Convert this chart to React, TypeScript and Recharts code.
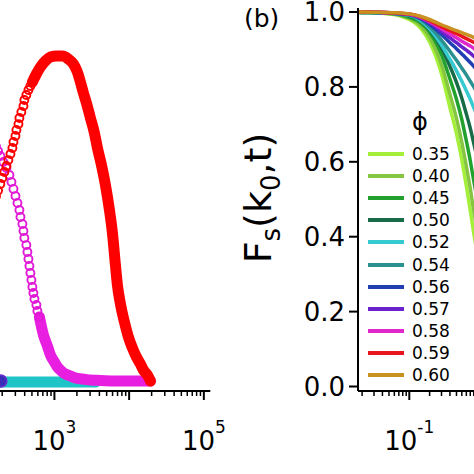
import React from "react";
import { ComposedChart, Line, XAxis, YAxis, Legend } from "recharts";

const FONT = "'DejaVu Sans', sans-serif";

// ---------- left panel (only its right part is in view) ----------
// [t, value] pairs
const redOpen: [number, number][] = [
  [165, 9.8], [176, 10.1], [189, 10.45], [201, 10.77], [214, 11.09], [228, 11.41],
  [242, 11.72], [258, 12.04], [274, 12.36], [283, 12.68], [301, 13.0], [310, 13.32],
  [330, 13.63], [340, 13.95], [361, 14.27], [385, 14.59], [396, 14.91], [421, 15.17],
  [449, 15.44], [477, 15.65], [507, 15.86],
];
const redBand: [number, number][] = [
  [507, 15.86], [574, 16.29], [650, 16.66], [759, 16.98], [884, 17.19], [1064, 17.24],
  [1280, 17.24], [1539, 17.08], [1796, 16.82], [2031, 16.39], [2228, 15.86], [2443, 15.28],
  [2681, 14.75], [3034, 13.95], [3428, 13.16], [3765, 12.36], [4259, 11.46], [4816, 10.4],
  [5449, 9.07], [5976, 7.85], [6555, 6.15], [6970, 5.09], [7648, 4.08], [8650, 3.13],
  [9790, 2.33], [11070, 1.75], [12530, 1.27], [14170, 0.9], [15530, 0.58], [17570, 0.32],
  [19280, 0],
];
const magentaOpen: [number, number][] = [
  [165, 12.45], [176, 12.2], [189, 11.94], [207, 11.62], [228, 11.3], [250, 10.93],
  [266, 10.56], [283, 10.19], [301, 9.81], [320, 9.44], [340, 9.07], [351, 8.7],
  [373, 8.33], [385, 7.96], [396, 7.59], [421, 7.21], [435, 6.84], [449, 6.47],
  [463, 6.1], [477, 5.73], [492, 5.36], [507, 4.99], [523, 4.67], [540, 4.35],
  [574, 4.03], [592, 3.71], [629, 3.4],
];
const magentaBand: [number, number][] = [
  [629, 3.4], [713, 2.44], [806, 1.86], [884, 1.38], [1000, 1.01], [1097, 0.74],
  [1240, 0.53], [1403, 0.37], [1637, 0.27], [1910, 0.16], [2370, 0.11], [3034, 0.05],
  [4130, 0.03], [6555, 0], [10400, 0], [19280, 0],
];
const cyanBand: [number, number][] = [
  [10, -0.05], [30, -0.05], [80, -0.05], [190, -0.05], [500, -0.05], [1200, -0.05],
  [2500, -0.05], [3600, -0.05],
];
const blueEnd: [number, number][] = [[20, 0], [60, 0], [120, 0], [192, 0]];

// ---------- right panel: Fs(k0,t) ----------
const fsTimes = [0.01, 0.02, 0.04, 0.06, 0.08, 0.1, 0.15, 0.2, 0.3, 0.4, 0.5, 0.6, 0.7, 0.8, 0.9, 1.0];
const phiLabels = ["0.35", "0.40", "0.45", "0.50", "0.52", "0.54", "0.56", "0.57", "0.58", "0.59", "0.60"];
const phiColors = [
  "#a4ef3a", "#86c540", "#22a12e", "#176b47", "#35c9d0", "#2a9190",
  "#1f3fb3", "#6a22cc", "#df27cc", "#e8141e", "#c9911f",
];
const fs35 = [1, 0.999, 0.997, 0.993, 0.987, 0.98, 0.955, 0.92, 0.835, 0.745, 0.675, 0.605, 0.535, 0.47, 0.41, 0.36];
const fs40 = [1, 0.999, 0.997, 0.994, 0.989, 0.983, 0.962, 0.932, 0.859, 0.78, 0.716, 0.652, 0.588, 0.529, 0.47, 0.422];
const fs45 = [1, 0.999, 0.998, 0.995, 0.991, 0.986, 0.97, 0.946, 0.886, 0.821, 0.767, 0.713, 0.656, 0.603, 0.55, 0.505];
const fs50 = [1, 0.999, 0.998, 0.996, 0.993, 0.99, 0.975, 0.953, 0.905, 0.855, 0.812, 0.77, 0.728, 0.69, 0.65, 0.615];
const fs52 = [1, 0.999, 0.998, 0.996, 0.993, 0.991, 0.976, 0.955, 0.912, 0.874, 0.843, 0.815, 0.79, 0.767, 0.745, 0.726];
const fs54 = [1, 0.999, 0.998, 0.997, 0.994, 0.992, 0.979, 0.961, 0.925, 0.895, 0.871, 0.85, 0.832, 0.815, 0.8, 0.786];
const fs56 = [1, 1, 0.999, 0.997, 0.995, 0.993, 0.982, 0.967, 0.94, 0.918, 0.902, 0.888, 0.876, 0.865, 0.855, 0.846];
const fs57 = [1, 1, 0.999, 0.997, 0.995, 0.994, 0.984, 0.971, 0.948, 0.931, 0.918, 0.907, 0.898, 0.89, 0.882, 0.875];
const fs58 = [1, 1, 0.999, 0.998, 0.996, 0.994, 0.985, 0.974, 0.955, 0.941, 0.931, 0.922, 0.915, 0.909, 0.903, 0.897];
const fs59 = [1, 1, 0.999, 0.998, 0.996, 0.995, 0.987, 0.977, 0.961, 0.95, 0.942, 0.935, 0.929, 0.924, 0.919, 0.914];
const fs60 = [1, 1, 0.999, 0.998, 0.997, 0.995, 0.988, 0.98, 0.966, 0.957, 0.95, 0.945, 0.94, 0.936, 0.932, 0.929];
const fsSeries = [fs35, fs40, fs45, fs50, fs52, fs54, fs56, fs57, fs58, fs59, fs60];

const fsRows = fsTimes.map((t, i) => {
  const row: Record<string, number> = { t };
  fsSeries.forEach((s, k) => (row["p" + k] = s[i]));
  return row;
});

const toPts = (a: [number, number][]) => a.map(([t, v]) => ({ t, v }));

// log ticks 2..9 x 10^k plus the decades
const logTicks = (from: number, to: number) => {
  const out: number[] = [];
  for (let e = from; e <= to; e++) {
    for (let m = 1; m <= 9; m++) out.push(+(m * Math.pow(10, e)).toPrecision(3));
  }
  return out;
};
const leftTicks = logTicks(1, 4).concat([100000]).filter((v) => v >= 20);
const rightTicks = logTicks(-2, 0).filter((v) => v >= 0.02 && v <= 1);
const fsYTicks = [0, 0.2, 0.4, 0.6, 0.8, 1.0];

const LogTick = (props: any) => {
  const { x, y, payload } = props;
  const v = payload.value;
  const e = Math.round(Math.log10(v));
  const major = Math.abs(v / Math.pow(10, e) - 1) < 1e-6;
  return (
    <g>
      <line x1={x} x2={x} y1={y} y2={y + (major ? 9 : 5)} stroke="#000" strokeWidth={major ? 2 : 1.5} />
      {major && e % 2 !== 0 && (
        <text x={x} y={y + 59} textAnchor="middle" fontSize={26} fill="#000">
          10
          <tspan dy={-17} fontSize={17}>
            {e}
          </tspan>
        </text>
      )}
    </g>
  );
};

const FsYTick = (props: any) => {
  const { x, y, payload } = props;
  return (
    <g>
      <line x1={x - 9} x2={x} y1={y} y2={y} stroke="#000" strokeWidth={2} />
      <text x={x - 13} y={y} dy="0.36em" textAnchor="end" fontSize={26} fill="#000">
        {payload.value.toFixed(1)}
      </text>
    </g>
  );
};

const FsLegend = (props: any) => {
  const payload = props.payload || [];
  return (
    <div style={{ fontFamily: FONT, color: "#000" }}>
      <div style={{ height: 35, lineHeight: "28px", fontSize: 24, paddingLeft: 44 }}>ϕ</div>
      {payload.map((e: any) => (
        <div key={e.value} style={{ height: 22.1, display: "flex", alignItems: "center" }}>
          <svg width={44} height={8} style={{ display: "block" }}>
            <line x1={0} x2={36} y1={4} y2={4} stroke={e.color} strokeWidth={4} />
          </svg>
          <span style={{ fontSize: 17, lineHeight: "22px" }}>{e.value}</span>
        </div>
      ))}
    </div>
  );
};

const frame = { stroke: "#000", strokeWidth: 2 };

const LeftPanel = () => (
  <ComposedChart width={335.3} height={474} margin={{ top: 4, right: 30, bottom: 0, left: 0 }}>
    <XAxis
      dataKey="t"
      type="number"
      scale="log"
      domain={[10, 122000]}
      allowDataOverflow
      ticks={leftTicks}
      interval={0}
      tick={<LogTick />}
      tickLine={false}
      tickSize={0}
      tickMargin={0}
      height={83}
      axisLine={frame}
    />
    <XAxis
      xAxisId="top"
      orientation="top"
      type="number"
      scale="log"
      domain={[10, 122000]}
      allowDataOverflow
      height={0}
      tick={false}
      tickLine={false}
      axisLine={frame}
    />
    <YAxis
      orientation="right"
      type="number"
      domain={[-0.53, 20]}
      allowDataOverflow
      width={0}
      tick={false}
      tickLine={false}
      axisLine={frame}
    />
    <Line data={toPts(cyanBand)} dataKey="v" type="linear" stroke="#1fc4c6" strokeWidth={11}
      strokeLinecap="round" dot={false} activeDot={false} isAnimationActive={false} />
    <Line data={toPts(blueEnd)} dataKey="v" type="linear" stroke="#3b2db8" strokeWidth={10}
      dot={{ r: 6, fill: "#3b2db8", stroke: "#6a2fd0", strokeWidth: 1.5 }} activeDot={false} isAnimationActive={false} />
    <Line data={toPts(magentaOpen)} dataKey="v" type="linear" stroke="none"
      dot={{ r: 4, fill: "none", stroke: "#e01ad6", strokeWidth: 1.9 }} activeDot={false} isAnimationActive={false} />
    <Line data={toPts(magentaBand)} dataKey="v" type="monotone" stroke="#e81ee0" strokeWidth={11}
      strokeLinecap="round" strokeLinejoin="round" dot={false} activeDot={false} isAnimationActive={false} />
    <Line data={toPts(redOpen)} dataKey="v" type="linear" stroke="none"
      dot={{ r: 4, fill: "none", stroke: "#ff0000", strokeWidth: 1.9 }} activeDot={false} isAnimationActive={false} />
    <Line data={toPts(redBand)} dataKey="v" type="monotone" stroke="#ff0000" strokeWidth={11}
      strokeLinecap="round" strokeLinejoin="round" dot={false} activeDot={false} isAnimationActive={false} />
  </ComposedChart>
);

const RightPanel = () => (
  <ComposedChart width={307.3} height={474} data={fsRows} margin={{ top: 8, right: 0, bottom: 0, left: 0 }}>
    <XAxis
      dataKey="t"
      type="number"
      scale="log"
      domain={[0.01738, 10]}
      allowDataOverflow
      ticks={rightTicks}
      interval={0}
      tick={<LogTick />}
      tickLine={false}
      tickSize={0}
      tickMargin={0}
      height={83}
      axisLine={frame}
    />
    <XAxis
      xAxisId="top"
      orientation="top"
      type="number"
      scale="log"
      domain={[0.01738, 10]}
      allowDataOverflow
      height={0}
      tick={false}
      tickLine={false}
      axisLine={frame}
    />
    <YAxis
      type="number"
      domain={[-0.012, 1.0107]}
      allowDataOverflow
      ticks={fsYTicks}
      interval={0}
      width={121}
      tick={<FsYTick />}
      tickLine={false}
      tickSize={0}
      tickMargin={0}
      axisLine={frame}
    />
    {phiLabels.map((p, k) => (
      <Line key={p} dataKey={"p" + k} name={p} type="monotone" stroke={phiColors[k]} strokeWidth={3.5}
        dot={false} activeDot={false} isAnimationActive={false} />
    ))}
    <Legend
      layout="vertical"
      align="center"
      verticalAlign="middle"
      wrapperStyle={{ left: 131, top: 108, width: 110 }}
      content={<FsLegend />}
    />
    <text x={7} y={27} fontSize={25} fill="#000">(b)</text>
    <text x={34} y={198} transform="rotate(-90 34 198)" textAnchor="middle" fontSize={38} fill="#000">
      F<tspan fontSize={26} dy={9}>s</tspan>
      <tspan dy={-9}>(k</tspan>
      <tspan fontSize={26} dy={9}>0</tspan>
      <tspan dy={-9}>,t)</tspan>
    </text>
  </ComposedChart>
);

export default function App() {
  return (
    <div
      style={{
        position: "fixed",
        left: 0,
        top: 0,
        width: 474,
        height: 474,
        overflow: "hidden",
        background: "#fff",
        fontFamily: FONT,
      }}
    >
      <div style={{ position: "absolute", left: -95.4, top: 0 }}>
        <LeftPanel />
      </div>
      <div style={{ position: "absolute", left: 237, top: 0 }}>
        <RightPanel />
      </div>
    </div>
  );
}
